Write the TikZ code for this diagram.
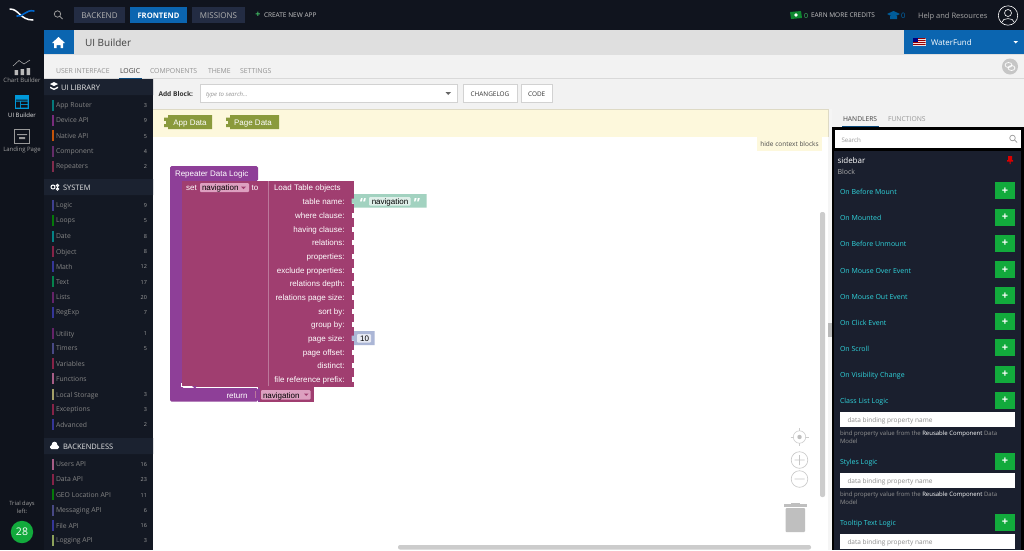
\documentclass[tikz,border=0pt]{standalone}
\usepackage{fontspec}
\setmainfont{Open Sans}
\newfontfamily\blk{Liberation Sans}
\definecolor{topbar}{HTML}{10141E}
\definecolor{rail}{HTML}{0F131C}
\definecolor{side}{HTML}{131823}
\definecolor{sidehead}{HTML}{1B2230}
\definecolor{navy}{HTML}{232C43}
\definecolor{bluebtn}{HTML}{0B65B0}
\definecolor{panel}{HTML}{1A1F2E}
\definecolor{greenbtn}{HTML}{12AA3C}
\definecolor{cyantxt}{HTML}{30D4DC}
\definecolor{purp}{HTML}{8E3F98}
\definecolor{rasp}{HTML}{A03E70}
\definecolor{fieldp}{HTML}{DDA0C0}
\definecolor{olive}{HTML}{8A9A3C}
\definecolor{mint}{HTML}{A2D2C0}
\definecolor{peri}{HTML}{ABB6D6}
\definecolor{cream}{HTML}{FDF8DC}
\newcount\nn
\newcommand{\tx}[4][]{\global\advance\nn by 1\node[txt,#1] (t\the\nn) at (#2,#3) {\vphantom{Ag}#4};}
\newcommand{\navi}[4]{\fill[#2!75!side] (52,#1-5.5) rectangle (54.3,#1+5.5);\tx[anchor=west,text=gray!95,font=\fontsize{6.8}{8}\selectfont]{56}{#1}{#3}\tx[text=gray!75,font=\fontsize{5.5}{6}\selectfont,anchor=east]{147}{#1}{#4}}
\newcommand{\rowlab}[2]{\tx[anchor=east,text=white,font=\blk\fontsize{8}{9}\selectfont]{344.5}{#1}{#2}\fill[white] (351.5,#1-2.5) rectangle (354.5,#1+2.5);}
\newcommand{\handler}[2]{\tx[anchor=west,text=cyantxt,font=\fontsize{7}{8}\selectfont]{840}{#1}{#2}\fill[greenbtn] (995,#1-9) rectangle (1015,#1+8);\tx[text=white,font=\fontsize{11}{11}\selectfont\bfseries]{1005}{#1-.5}{+}}
\newcommand{\bindbox}[1]{\fill[white] (840,#1-7.5) rectangle (1015,#1+7.5);\tx[anchor=west,text=gray!90,font=\fontsize{6.5}{8}\selectfont]{847.5}{#1}{data binding property name}}
\newcommand{\bindtxt}[1]{\tx[anchor=west,text=gray!85,font=\fontsize{6}{7}\selectfont,inner xsep=0pt]{840}{#1}{bind property value from the {\color{white}Reusable Component} Data}\tx[anchor=west,text=gray!85,font=\fontsize{6}{7}\selectfont,inner xsep=0pt]{840}{#1+8}{Model}}
\tikzset{txt/.style={inner sep=0pt,outer sep=0pt,yshift=-1.3pt,font=\fontsize{7}{8}\selectfont}}
\begin{document}
\begin{tikzpicture}[x=1pt,y=-1pt]
\useasboundingbox (0,0) rectangle (1024,550);
\clip (0,0) rectangle (1024,550);
\fill[white] (0,0) rectangle (1024,550);
% frames
\fill[rail] (0,30) rectangle (44,550);
\fill[topbar] (0,0) rectangle (1024,30);
\fill[side] (44,79) rectangle (153,550);
\fill[gray!25!white] (44,30) rectangle (1024,55);
\fill[gray!10!white] (44,55) rectangle (1024,79);
\draw[gray!30,line width=.5pt] (44,78.7) -- (1024,78.7);
\fill[gray!10!white] (153,79) rectangle (1024,109);
\fill[gray!10!white] (828,109) rectangle (1024,130);
\fill[gray!8!white] (828,109) rectangle (832,550);
\fill[cream] (153,109) rectangle (828,137);
\draw[gray!25!cream,line width=.5pt] (153,109) -- (828,109) -- (828,137);
% logo
\draw[white,line width=1.5pt,line cap=round] (10,9) .. controls (19,9) and (20,20) .. (33,20);
\draw[blue!50!cyan!80!black,line width=1.6pt,line cap=round] (17,16) .. controls (22,18) and (26,9) .. (34,11);
% top bar
\draw[gray!80,line width=.8pt] (57.5,14) circle (3.2) (60,16.5) -- (62.5,19);
\fill[navy] (74,7) rectangle (125,23);
\fill[bluebtn] (130,7) rectangle (187,23);
\fill[navy] (192,7) rectangle (245,23);
\tx[text=gray!60,font=\fontsize{8}{9}\selectfont]{99.5}{15}{BACKEND}
\tx[text=white,font=\fontsize{7.6}{9}\selectfont\bfseries]{158.5}{15}{FRONTEND}
\tx[text=gray!60,font=\fontsize{8}{9}\selectfont]{218.5}{15}{MISSIONS}
\tx[text=greenbtn!80!white,font=\fontsize{9}{9}\selectfont\bfseries]{258}{14.5}{+}
\tx[anchor=west,text=gray!45,font=\fontsize{6.5}{7}\selectfont]{264}{15}{CREATE NEW APP}
\fill[greenbtn!80!black,rounded corners=.5pt] (790,12) -- (801,11) -- (802,18) -- (791,19) -- cycle;
\fill[white] (796,15) circle (1.8);
\tx[anchor=west,text=greenbtn!80!white,font=\fontsize{7}{8}\selectfont]{804}{15}{0}
\tx[anchor=west,text=gray!45,font=\fontsize{6.5}{7}\selectfont]{811}{15}{EARN MORE CREDITS}
\fill[blue!40!cyan!60!black] (887,14) -- (893.5,11) -- (900,14) -- (893.5,17) -- cycle (890,16) -- (897,16) -- (897,19) -- (890,19) -- cycle;
\tx[anchor=west,text=blue!40!cyan!70!black,font=\fontsize{7.5}{8}\selectfont]{901}{15}{0}
\tx[anchor=west,text=gray!70,font=\fontsize{7.5}{8}\selectfont]{918}{15}{Help and Resources}
\draw[white,line width=.6pt] (1008,15.5) circle (9.7);
\draw[white,line width=.6pt] (1008,13) circle (3.5);
\draw[white,line width=.6pt] (1002,22) .. controls (1002,17.5) and (1014,17.5) .. (1014,22);
% header
\fill[bluebtn] (44,30) rectangle (74,54);
\fill[white] (58.5,37) -- (65,43) -- (63,43) -- (63,48) -- (60.5,48) -- (60.5,45) -- (56.5,45) -- (56.5,48) -- (54,48) -- (54,43) -- (52,43) -- cycle;
\tx[anchor=west,text=black!75,font=\fontsize{10}{11}\selectfont]{85}{42.5}{UI Builder}
\fill[bluebtn] (904,30) rectangle (1024,54);
\fill[white] (913,38) rectangle (925.5,46);
\fill[red!60!black] (913,38) rectangle (925.5,39) (913,40) rectangle (925.5,41) (913,42) rectangle (925.5,43) (913,44) rectangle (925.5,45);
\fill[blue!50!black] (913,38) rectangle (918,42);
\tx[anchor=west,text=white,font=\fontsize{7.9}{9}\selectfont]{931}{42.5}{WaterFund}
\fill[white] (1013.5,41) -- (1018,41) -- (1015.7,43.5) -- cycle;
% tabs
\tx[anchor=west,text=gray!85,font=\fontsize{6.9}{8}\selectfont]{56}{70.5}{USER INTERFACE}
\tx[anchor=west,text=black!75,font=\fontsize{6.9}{8}\selectfont]{120}{70.5}{LOGIC}
\tx[anchor=west,text=gray!85,font=\fontsize{6.9}{8}\selectfont]{150}{70.5}{COMPONENTS}
\tx[anchor=west,text=gray!85,font=\fontsize{6.9}{8}\selectfont]{208}{70.5}{THEME}
\tx[anchor=west,text=gray!85,font=\fontsize{6.9}{8}\selectfont]{240}{70.5}{SETTINGS}
\fill[bluebtn!70!black] (119,77.5) rectangle (142,79);
\fill[gray!45] (1010,66.5) circle (8);
\draw[white,line width=.7pt] (1008.5,65) ellipse (3.5 and 2.5) (1011.5,68) ellipse (3.5 and 2.5);
% rail
\fill[gray!55] (14.5,70) rectangle (18,75) (20.5,69) rectangle (24,75) (26.5,68) rectangle (30,75);
\draw[gray!55,line width=.5pt] (13,66) -- (19,60.5) -- (24,64) -- (30,60);
\tx[text=gray!75,font=\fontsize{6}{7}\selectfont]{22}{80}{Chart Builder}
\fill[blue!30!cyan!85!black] (14.5,94.5) rectangle (29,109);
\fill[rail] (16,99.5) rectangle (27.5,100.5) (21,101.5) rectangle (27.5,104) (21,105) rectangle (27.5,107.5) (16,101.5) rectangle (20,107.5);
\tx[text=gray!20,font=\fontsize{6}{7}\selectfont]{22}{114.5}{UI Builder}
\draw[gray!80,line width=.5pt] (14.5,129.5) rectangle (29.5,143);
\fill[gray!80] (17,134) rectangle (27,135) (19,137) rectangle (25,139);
\tx[text=gray!75,font=\fontsize{6}{7}\selectfont]{22}{149}{Landing Page}
\tx[text=gray!75,font=\fontsize{5.8}{6}\selectfont]{22}{503}{Trial days}
\tx[text=gray!75,font=\fontsize{5.8}{6}\selectfont]{22}{511}{left:}
\fill[greenbtn] (22,532) circle (11.2);
\tx[text=white,font=\fontsize{10.5}{11}\selectfont]{22}{532}{28}
% sidebar headers
\fill[sidehead] (44,79) rectangle (153,95) (44,179) rectangle (153,195) (44,438) rectangle (153,454);
\fill[white] (50,84) -- (54,82) -- (58,84) -- (54,86) -- cycle (50,86.5) -- (54,88.5) -- (58,86.5) -- (58,88) -- (54,90) -- (50,88) -- cycle;
\tx[anchor=west,text=gray!20,font=\fontsize{7.6}{9}\selectfont]{61}{87}{UI LIBRARY}
\draw[white,line width=1pt] (53,187) circle (2) (57.5,185.5) circle (1.2) (57.5,189) circle (1.2);
\tx[anchor=west,text=gray!20,font=\fontsize{7.5}{9}\selectfont]{63}{187.5}{SYSTEM}
\fill[white,rounded corners=1.5pt] (50,449) rectangle (59,445) ;
\fill[white] (54.5,444.5) circle (2.8);
\tx[anchor=west,text=gray!20,font=\fontsize{7.5}{9}\selectfont]{63}{446}{BACKENDLESS}
\navi{105}{teal!80!cyan}{App Router}{3}
\navi{120}{violet!80!white}{Device API}{9}
\navi{135.5}{orange!80!red}{Native API}{5}
\navi{151}{violet!60!gray}{Component}{4}
\navi{166}{purple!60!gray}{Repeaters}{2}
\navi{205}{blue!40!gray}{Logic}{9}
\navi{220}{green!60!black}{Loops}{5}
\navi{236}{teal!70!cyan}{Date}{8}
\navi{251}{purple!70!gray}{Object}{8}
\navi{266}{blue!50!gray}{Math}{12}
\navi{281.5}{teal!70!green}{Text}{17}
\navi{297}{violet!70!gray}{Lists}{20}
\navi{312}{blue!50!gray}{RegExp}{7}
\navi{333}{violet!70!gray}{Utility}{1}
\navi{348}{blue!30!gray}{Timers}{5}
\navi{363}{purple!70!gray}{Variables}{}
\navi{378.5}{magenta!60!gray}{Functions}{}
\navi{394}{yellow!50!gray}{Local Storage}{3}
\navi{409}{purple!70!gray}{Exceptions}{3}
\navi{424}{blue!50!gray}{Advanced}{2}
\navi{464}{magenta!60!gray}{Users API}{16}
\navi{479}{purple!70!gray}{Data API}{23}
\navi{494.5}{green!60!black}{GEO Location API}{11}
\navi{510}{blue!30!gray}{Messaging API}{6}
\navi{525}{blue!50!gray}{File API}{16}
\navi{540}{yellow!60!green!70!gray}{Logging API}{3}
% add block
\tx[anchor=west,text=black!80,font=\fontsize{6.6}{8}\selectfont\bfseries]{158.5}{93.5}{Add Block:}
\draw[gray!35,fill=white,line width=.5pt] (200,84.5) rectangle (457,102.5);
\tx[anchor=west,text=gray!85,font=\fontsize{6}{7}\selectfont\itshape]{206}{94}{type to search...}
\fill[black!60] (445.5,92) -- (451,92) -- (448.2,95) -- cycle;
\draw[gray!35,fill=white,line width=.5pt] (463.5,84.5) rectangle (517,102.5);
\tx[text=black!80,font=\fontsize{6.4}{7}\selectfont]{490}{93.5}{CHANGELOG}
\draw[gray!35,fill=white,line width=.5pt] (521.5,84.5) rectangle (552,102.5);
\tx[text=black!80,font=\fontsize{6.4}{7}\selectfont]{536.7}{93.5}{CODE}
% context
\fill[olive] (168,115) rectangle (212,129) (164,117.5) rectangle (169,127);
\fill[cream] (164,120.5) rectangle (165.5,124);
\tx[text=white,font=\blk\fontsize{8}{9}\selectfont]{190}{122}{App Data}
\fill[olive] (230,115) rectangle (279,129) (226,117.5) rectangle (231,127);
\fill[cream] (226,120.5) rectangle (227.5,124);
\tx[text=white,font=\blk\fontsize{8}{9}\selectfont]{253}{122}{Page Data}
\fill[cream] (757,137) rectangle (822,150.5);
\tx[text=black!70,font=\fontsize{6.5}{7}\selectfont]{789.5}{144}{hide context blocks}
% repeater block
\fill[purp,rounded corners=1.5pt] (170,166) -- (258,166) -- (258,181) -- (182,181) -- (182,388) -- (258,388) -- (258,401.5) -- (170,401.5) -- cycle;
\fill[rasp] (182,181) rectangle (354,387);
\fill[rasp] (258,387) rectangle (313.5,401.5);
\fill[purp] (258,388) rectangle (260,401.5);
\draw[white,line width=.8pt] (181.3,383) -- (181.3,386.5) -- (193,386.5);
\draw[rasp!70!white,line width=.5pt] (268.5,181) -- (268.5,386);
\fill[purp] (192,386) -- (197,386) -- (195,388.5) -- cycle;
\tx[text=white,font=\blk\fontsize{8}{9}\selectfont,anchor=west]{175}{173.5}{Repeater Data Logic}
\tx[text=white,font=\blk\fontsize{8}{9}\selectfont]{191.5}{187.5}{set}
\fill[fieldp,rounded corners=1pt] (200,183) rectangle (249,192);
\tx[text=black,font=\blk\fontsize{8}{9}\selectfont,anchor=west]{202}{187.5}{navigation}
\fill[rasp] (241,186.5) -- (246,186.5) -- (243.5,189) -- cycle;
\tx[text=white,font=\blk\fontsize{8}{9}\selectfont]{255}{187.5}{to}
\tx[text=white,font=\blk\fontsize{8}{9}\selectfont,anchor=west]{274}{187.5}{Load Table objects}
\rowlab{201}{table name:}
\rowlab{215}{where clause:}
\rowlab{229}{having clause:}
\rowlab{242.5}{relations:}
\rowlab{256}{properties:}
\rowlab{270}{exclude properties:}
\rowlab{283.5}{relations depth:}
\rowlab{297}{relations page size:}
\rowlab{311}{sort by:}
\rowlab{324.5}{group by:}
\rowlab{338}{page size:}
\rowlab{352}{page offset:}
\rowlab{365.5}{distinct:}
\rowlab{379.5}{file reference prefix:}
% value blocks
\fill[mint] (354,194) rectangle (426.5,207.5) (351.5,198.5) rectangle (354.5,203.5);
\fill[white!65!mint,rounded corners=1pt] (369,197) rectangle (410.5,205.5);
\tx[text=white,font=\fontsize{14}{14}\selectfont\bfseries]{363}{204}{“}
\tx[text=white,font=\fontsize{14}{14}\selectfont\bfseries]{417}{204}{”}
\tx[text=black,font=\blk\fontsize{8}{9}\selectfont]{390}{201.5}{navigation}
\fill[peri] (354,331) rectangle (374.5,345) (351.5,335.5) rectangle (354.5,340.5);
\fill[white!70!peri,rounded corners=1pt] (357,334) rectangle (371,342.5);
\tx[text=black,font=\blk\fontsize{8}{9}\selectfont]{364.5}{338.5}{10}
\tx[text=white,font=\blk\fontsize{8}{9}\selectfont]{237}{395}{return}
\fill[rasp!70!white] (255,391) rectangle (256,398);
\fill[fieldp,rounded corners=1pt] (261,390) rectangle (310.5,399.5);
\tx[text=black,font=\blk\fontsize{8}{9}\selectfont,anchor=west]{263}{395}{navigation}
\fill[rasp] (304,393.5) -- (308.5,393.5) -- (306.2,396) -- cycle;
% scrollbars and tools
\fill[gray!40,rounded corners=2pt] (820,212) rectangle (825,497);
\fill[gray!40,rounded corners=2pt] (398,545) rectangle (811,549.5);
\fill[gray!55] (828,323) rectangle (831.5,337);
\draw[gray!40,line width=.6pt] (790.5,437) -- (808.5,437) (799.5,428) -- (799.5,446);
\fill[white] (799.5,437) circle (6);
\draw[gray!40,line width=.6pt] (799.5,437) circle (6.2);
\fill[gray!50] (799.5,437) circle (2.2);
\draw[gray!45,line width=.6pt] (799.5,460) circle (8.3) (794.5,460) -- (804.5,460) (799.5,455) -- (799.5,465);
\draw[gray!45,line width=.6pt] (799.5,479) circle (8.3) (794.5,479) -- (804.5,479);
\fill[gray!50] (784,503.5) rectangle (807,507);
\fill[gray!50] (791,503) rectangle (800,504);
\fill[gray!50,rounded corners=1pt] (785.5,508) rectangle (805,532);
% right panel
\tx[anchor=west,text=black!75,font=\fontsize{6.7}{8}\selectfont]{843}{119}{HANDLERS}
\tx[anchor=west,text=gray!80,font=\fontsize{6.8}{8}\selectfont]{888}{119}{FUNCTIONS}
\fill[bluebtn!70!black] (842,125.5) rectangle (879,127);
\fill[black] (832,127) rectangle (1024,550);
\fill[panel] (834,151) rectangle (1021,550);
\fill[white] (835,130) rectangle (1021,148);
\tx[anchor=west,text=gray!80,font=\fontsize{6.2}{7}\selectfont]{841.5}{139.5}{Search}
\draw[gray!80,line width=.7pt] (1012.5,138) circle (2.8) (1014.5,140) -- (1017,142.5);
\tx[anchor=west,text=white,font=\fontsize{8}{9}\selectfont]{837.5}{160}{sidebar}
\tx[anchor=west,text=gray!65,font=\fontsize{7}{8}\selectfont]{837.5}{171}{Block}
\fill[red!85!black] (1008,156) rectangle (1012,160) (1007,160) rectangle (1013,161.5) (1009.5,161) rectangle (1010.5,164);
\handler{191}{On Before Mount}
\handler{217.5}{On Mounted}
\handler{243.5}{On Before Unmount}
\handler{270}{On Mouse Over Event}
\handler{296}{On Mouse Out Event}
\handler{322}{On Click Event}
\handler{348}{On Scroll}
\handler{374.5}{On Visibility Change}
\handler{400.5}{Class List Logic}
\bindbox{419}
\bindtxt{432.5}
\handler{461.5}{Styles Logic}
\bindbox{480}
\bindtxt{494}
\handler{522.5}{Tooltip Text Logic}
\bindbox{541}
\end{tikzpicture}
\end{document}
